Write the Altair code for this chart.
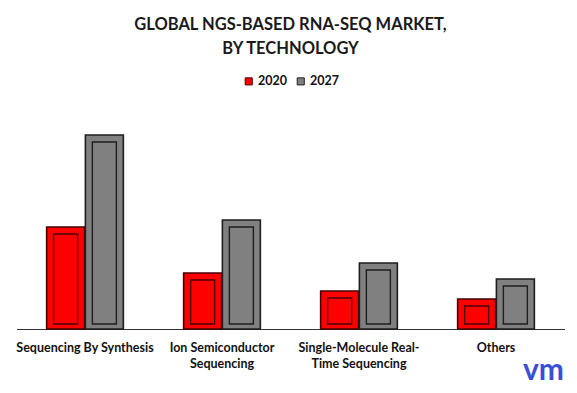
import altair as alt
import pandas as pd

categories = ["Sequencing By Synthesis", "Ion Semiconductor|Sequencing",
              "Single-Molecule Real-|Time Sequencing", "Others"]
years = ["2020", "2027"]
values_2020 = [1.02, 0.56, 0.38, 0.30]
values_2027 = [1.94, 1.09, 0.66, 0.50]

rows = []
for c, a, b in zip(categories, values_2020, values_2027):
    rows.append({"category": c, "year": "2020", "value": a})
    rows.append({"category": c, "year": "2027", "value": b})
df = pd.DataFrame(rows)

FONT = "Lato"

x_enc = alt.X("category:N", sort=categories,
              scale=alt.Scale(paddingInner=0.44, paddingOuter=0.22),
              axis=alt.Axis(title=None, labelAngle=0, ticks=False, domainColor="#333333",
                            domainWidth=1.2, labelFont=FONT, labelFontWeight="bold",
                            labelFontSize=12.5, labelColor="#111111", labelPadding=12,
                            labelLineHeight=16, labelExpr="split(datum.label, '|')"))
xo_enc = alt.XOffset("year:N", sort=years, scale=alt.Scale(paddingInner=0.02))
y_enc = alt.Y("value:Q", scale=alt.Scale(domain=[0, 2.19]), axis=None, stack=None)

base = alt.Chart(df)

outer = base.mark_bar(strokeWidth=1.6).encode(
    x=x_enc, xOffset=xo_enc, y=y_enc,
    color=alt.Color("year:N", sort=years,
                    scale=alt.Scale(domain=years, range=["#ff0000", "#808080"]),
                    legend=alt.Legend(title=None, orient="none", legendX=226, legendY=-35,
                                      direction="horizontal", symbolType="square",
                                      symbolSize=50, symbolStrokeColor="#333333",
                                      symbolStrokeWidth=1, labelFont=FONT,
                                      labelFontWeight="bold", labelFontSize=12.5,
                                      labelColor="#111111", columnPadding=7,
                                      labelOffset=3)),
    stroke=alt.Stroke("year:N", sort=years,
                      scale=alt.Scale(domain=years, range=["#4a0000", "#1e1e1e"]),
                      legend=None),
)

inner = base.mark_bar(size=24, fillOpacity=0, strokeWidth=1.4, yOffset=7, y2Offset=-5).encode(
    x=x_enc, xOffset=xo_enc, y=y_enc, y2=alt.datum(0),
    stroke=alt.Stroke("year:N", sort=years,
                      scale=alt.Scale(domain=years, range=["#a80000", "#555555"]),
                      legend=None),
)

logo = alt.Chart(pd.DataFrame({"t": ["vm"]})).mark_text(
    font=FONT, fontWeight="bold", fontSize=30, color="#3b4fd6", align="center",
    baseline="alphabetic").encode(text="t:N", x=alt.value(527), y=alt.value(270))

chart = alt.layer(outer, inner, logo).properties(
    width=548, height=219,
    padding={"left": 8.5, "top": 102, "right": 4.5, "bottom": 56},
    autosize=alt.AutoSizeParams(type="none"),
    title=alt.TitleParams(["GLOBAL NGS-BASED RNA-SEQ MARKET,", "BY TECHNOLOGY"],
                          font=FONT, fontSize=16.5, fontWeight="bold", color="#1a1a1a",
                          anchor="middle", lineHeight=24, offset=18),
).configure_view(stroke=None)

chart.save("out.html", embed_options={"renderer": "svg", "actions": False})
